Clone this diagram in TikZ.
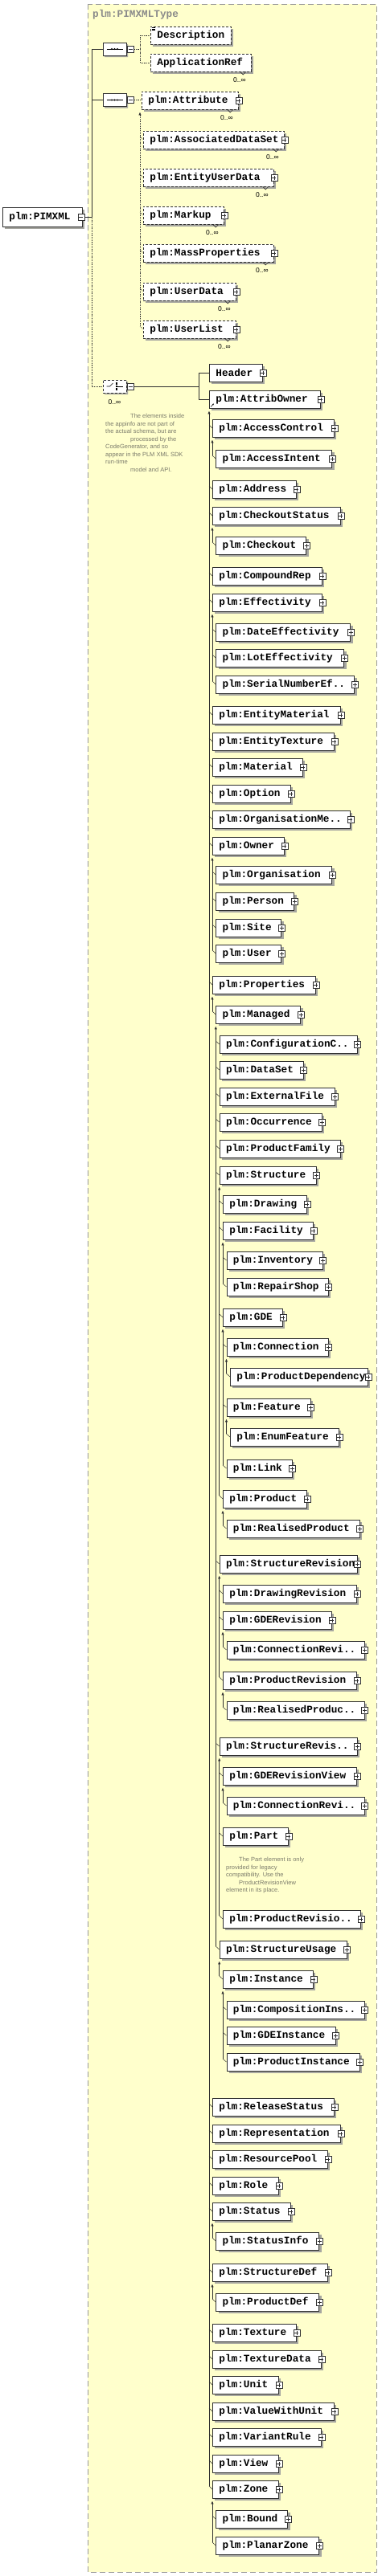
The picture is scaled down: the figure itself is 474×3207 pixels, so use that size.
\documentclass[tikz,border=0pt]{standalone}
\usepackage{fontspec}
\usetikzlibrary{positioning,shapes.misc,shadows,arrows.meta}
\newfontfamily\pimmono{Liberation Mono}[HyphenChar=None]
\newfontfamily\pimsans{Liberation Sans}
\newcommand{\pimboxfont}{\pimmono\bfseries\fontsize{12.7}{14}\selectfont}
\newcommand{\pimnotefont}{\pimsans\fontsize{7.5}{9.5}\selectfont}
\newcommand{\pimoccfont}{\pimsans\fontsize{8.5}{9}\selectfont}
\definecolor{typebg}{HTML}{FFFFCC}
\definecolor{typeframe}{HTML}{9A9A9A}
\definecolor{boxline}{HTML}{303030}
\definecolor{shadowgray}{HTML}{A6A6A0}
\definecolor{titlegray}{HTML}{8A8A8A}
\definecolor{notegray}{HTML}{7A7A6A}
\tikzset{
pimbox/.style = {draw=boxline, fill=white, anchor=west, font=\pimboxfont, inner xsep=8pt, inner ysep=0pt,
  minimum height=22pt, text width=#1, line width=0.8pt,
  drop shadow={shadow xshift=3pt, shadow yshift=-3pt, fill=shadowgray, opacity=1}},
elem/.style = {pimbox=#1, label={[plusbox]east:{}}},
optbox/.style = {pimbox=#1, densely dashed},
optelem/.style = {elem=#1, densely dashed},
plusbox/.style = {draw=boxline, fill=white, anchor=center, minimum size=8pt, inner sep=0pt, line width=0.6pt, solid,
  path picture={\draw[line width=0.6pt] ([xshift=-2.5pt]path picture bounding box.center) -- ([xshift=2.5pt]path picture bounding box.center)
    ([yshift=-2.5pt]path picture bounding box.center) -- ([yshift=2.5pt]path picture bounding box.center);}},
minusbox/.style = {draw=boxline, fill=white, minimum size=8pt, inner sep=0pt, line width=0.6pt, solid,
  path picture={\draw[line width=0.6pt] ([xshift=-2.5pt]path picture bounding box.center) -- ([xshift=2.5pt]path picture bounding box.center);}},
seq/.style = {chamfered rectangle, chamfered rectangle xsep=4pt, draw=boxline, fill=white, minimum width=29pt,
  minimum height=16pt, inner sep=0pt, line width=0.8pt,
  drop shadow={shadow xshift=2pt, shadow yshift=-2pt, fill=shadowgray, opacity=1}},
optseq/.style = {seq, densely dashed},
occ/.style = {font=\pimoccfont, inner sep=0pt},
note/.style = {font=\pimnotefont, text=notegray, align=left, anchor=north west, inner sep=0pt},
bus/.style = {draw=boxline, line width=0.8pt},
optbus/.style = {bus, densely dotted},
subst/.style = {bus, -{Latex[length=4pt,width=3.5pt]}},
substtick/.style = {bus, line width=0.5pt}
}
\newcommand{\substgroup}[3]{%
  \draw [subst] (#1.south west |- #2.west) ++(0,4pt) -- ([yshift=-3pt]#1.south west);
  \foreach \kid in {#3} {\draw [substtick] (#1.south west |- \kid.west) ++(0,4pt) -- (\kid.west);}%
}
\begin{document}
\begin{tikzpicture}[x=1pt, y=-1pt]
    \useasboundingbox (0,0) rectangle (474,3207);
    \draw [fill=typebg, draw=typeframe, line width=0.8pt, dash pattern=on 7pt off 4pt] (109,5) rectangle (468,3202);
    \node [anchor=west, font=\pimboxfont, text=titlegray, inner sep=0pt] (title) at (115,18) {plm:PIMXMLType};

    % root element and compositors
    \node [pimbox=83pt, minimum height=24pt] (root) at (3,270) {plm:PIMXML};
    \node [minusbox] (rootm) at ([xshift=-2pt]root.east) {};
    \node [seq] (seq1) at (142.5,61) {};
    \node [minusbox, right=1pt of seq1] (seq1m) {};
    \node [seq] (seq2) at (142.5,124.5) {};
    \node [minusbox, right=1pt of seq2] (seq2m) {};
    \node [optseq] (choice) at (142.5,481) {};
    \node [minusbox, right=1pt of choice] (choicem) {};
    \node [occ] (choice-occ) at ([yshift=-11pt]choice.south) {0..∞};
    \foreach \s in {seq1,seq2} {
      \draw [line width=0.6pt] ([xshift=-10pt]\s.center) -- ([xshift=10pt]\s.center);
      \foreach \dx in {-3.5,0,3.5} \fill ([xshift=\dx pt]\s.center) circle (1.1pt);
    }
    \draw [line width=0.6pt] ([xshift=-10pt]choice.center) -- ++(4pt,0) -- ++(4pt,4pt);
    \foreach \dy in {-3.5,0,3.5} \fill ([shift={(1pt,\dy pt)}]choice.center) ++(0,-1.2pt) rectangle ++(2.4pt,2.4pt);
    \draw [line width=0.6pt] ([xshift=3.4pt]choice.center) -- ([xshift=10pt]choice.center);

    % first two sequences
    \node [optbox=84pt] (desc) at (187,44) {Description};
    \node [optbox=109pt] (appref) at (187,78) {ApplicationRef};
    \node [optelem=104pt] (attribute) at (176,125) {plm:Attribute};
    \node [optelem=159pt] (assocdataset) at (178,174) {plm:AssociatedDataSet};
    \node [optelem=146pt] (entityuserdata) at (178,221) {plm:EntityUserData};
    \node [optelem=84pt] (markup) at (178,268) {plm:Markup};
    \node [optelem=146pt] (massprops) at (178,315) {plm:MassProperties};
    \node [optelem=99pt] (userdata) at (178,363) {plm:UserData};
    \node [optelem=99pt] (userlist) at (178,410) {plm:UserList};
    \foreach \k in {0,1.5,3} \draw [line width=0.5pt] ([shift={(2pt,-2pt-\k pt)}]desc.north west) -- ++(4pt,0);
    \foreach \m in {appref,attribute,assocdataset,entityuserdata,markup,massprops,userdata,userlist} {
      \draw [boxline, line width=0.6pt] ([xshift=-14pt]\m.south east) -- ++(3.5pt,-3.5pt) -- ++(3.5pt,3.5pt);
      \node [occ] (\m-occ) at ([xshift=-15pt,yshift=-10pt]\m.south east) {0..∞};
    }

    % choice content
    \node [elem=50pt] (header) at (260,464) {Header};
    \node [elem=122pt] (attribowner) at (260,497) {plm:AttribOwner};
    \draw [-{Latex[length=2pt,width=2pt]}, line width=0.5pt] ([shift={(2pt,2pt)}]attribowner.south west) -- ++(4pt,4pt);
    \node [note] (appinfo) at (131,515) {\hspace*{31pt}The elements inside\\the appinfo are not part of\\the actual schema, but are\\
      \hspace*{31pt}processed by the\\CodeGenerator, and so\\appear in the PLM XML SDK\\run-time\\\hspace*{31pt}model and API.};

    \node [elem=135pt] (accesscontrol) at (264,533) {plm:AccessControl};
    \node [elem=128pt] (accessintent) at (268.3,571) {plm:AccessIntent};
    \node [elem=88pt] (address) at (264,609) {plm:Address};
    \node [elem=143pt] (checkoutstatus) at (264,642) {plm:CheckoutStatus};
    \node [elem=96pt] (checkout) at (268.3,679) {plm:Checkout};
    \node [elem=120pt] (compoundrep) at (264,717) {plm:CompoundRep};
    \node [elem=120pt] (effectivity) at (264,750) {plm:Effectivity};
    \node [elem=151pt] (dateeffectivity) at (268.3,787) {plm:DateEffectivity};
    \node [elem=143pt] (loteffectivity) at (268.3,819) {plm:LotEffectivity};
    \node [elem=156pt] (serialnumeff) at (268.3,852) {plm:SerialNumberEf..};
    \node [elem=143pt] (entitymaterial) at (264,890) {plm:EntityMaterial};
    \node [elem=135pt] (entitytexture) at (264,923) {plm:EntityTexture};
    \node [elem=96pt] (material) at (264,955) {plm:Material};
    \node [elem=81pt] (option) at (264,988) {plm:Option};
    \node [elem=155pt] (organisationme) at (264,1020) {plm:OrganisationMe..};
    \node [elem=73pt] (owner) at (264,1053) {plm:Owner};
    \node [elem=128pt] (organisation) at (268.3,1089) {plm:Organisation};
    \node [elem=81pt] (person) at (268.3,1122) {plm:Person};
    \node [elem=65pt] (site) at (268.3,1155) {plm:Site};
    \node [elem=65pt] (user) at (268.3,1187) {plm:User};
    \node [elem=112pt] (properties) at (264,1226) {plm:Properties};
    \node [elem=89pt] (managed) at (268.3,1263) {plm:Managed};
    \node [elem=155pt] (configurationc) at (272.7,1300) {plm:ConfigurationC..};
    \node [elem=88pt] (dataset) at (272.7,1332) {plm:DataSet};
    \node [elem=127pt] (externalfile) at (272.7,1365) {plm:ExternalFile};
    \node [elem=111pt] (occurrence) at (272.7,1397) {plm:Occurrence};
    \node [elem=134pt] (productfamily) at (272.7,1430) {plm:ProductFamily};
    \node [elem=104pt] (structure) at (272.7,1463) {plm:Structure};
    \node [elem=88pt] (drawing) at (277,1499) {plm:Drawing};
    \node [elem=96pt] (facility) at (277,1532) {plm:Facility};
    \node [elem=103pt] (inventory) at (281.5,1569) {plm:Inventory};
    \node [elem=110pt] (repairshop) at (281.5,1602) {plm:RepairShop};
    \node [elem=58pt] (gde) at (277,1640) {plm:GDE};
    \node [elem=110pt] (connection) at (281.5,1677) {plm:Connection};
    \node [elem=155pt] (productdependency) at (286,1714) {plm:ProductDependency};
    \node [elem=88pt] (feature) at (281.5,1752) {plm:Feature};
    \node [elem=119pt] (enumfeature) at (286,1789) {plm:EnumFeature};
    \node [elem=65pt] (link) at (281.5,1828) {plm:Link};
    \node [elem=88pt] (product) at (277,1866) {plm:Product};
    \node [elem=149pt] (realisedproduct) at (281.5,1903) {plm:RealisedProduct};
    \node [elem=155pt] (structurerevision) at (272.7,1947) {plm:StructureRevision};
    \node [elem=150pt] (drawingrevision) at (277,1984) {plm:DrawingRevision};
    \node [elem=119pt] (gderevision) at (277,2017) {plm:GDERevision};
    \node [elem=155pt] (connectionrevi) at (281.5,2054) {plm:ConnectionRevi..};
    \node [elem=150pt] (productrevision) at (277,2092) {plm:ProductRevision};
    \node [elem=155pt] (realisedproduc) at (281.5,2129) {plm:RealisedProduc..};
    \node [elem=155pt] (structurerevis) at (272.7,2174) {plm:StructureRevis..};
    \node [elem=150pt] (gderevisionview) at (277,2211) {plm:GDERevisionView};
    \node [elem=155pt] (connectionrevii) at (281.5,2248) {plm:ConnectionRevi..};
    \node [elem=65pt] (part) at (277,2286) {plm:Part};
    \node [note] (partnote) at (281,2312) {\hspace*{16pt}The Part element is only\\provided for legacy\\compatibility. Use the\\
      \hspace*{16pt}ProductRevisionView\\element in its place.};
    \node [elem=155pt] (productrevisio) at (277,2389) {plm:ProductRevisio..};
    \node [elem=142pt] (structureusage) at (272.7,2427) {plm:StructureUsage};
    \node [elem=96pt] (instance) at (277,2464) {plm:Instance};
    \node [elem=155pt] (compositionins) at (281.5,2502) {plm:CompositionIns..};
    \node [elem=119pt] (gdeinstance) at (281.5,2534) {plm:GDEInstance};
    \node [elem=149pt] (productinstance) at (281.5,2567) {plm:ProductInstance};
    \node [elem=135pt] (releasestatus) at (264,2623) {plm:ReleaseStatus};
    \node [elem=143pt] (representation) at (264,2656) {plm:Representation};
    \node [elem=127pt] (resourcepool) at (264,2688) {plm:ResourcePool};
    \node [elem=66pt] (role) at (264,2721) {plm:Role};
    \node [elem=81pt] (status) at (264,2753) {plm:Status};
    \node [elem=112pt] (statusinfo) at (268.3,2790) {plm:StatusInfo};
    \node [elem=127pt] (structuredef) at (264,2829) {plm:StructureDef};
    \node [elem=112pt] (productdef) at (268.3,2866) {plm:ProductDef};
    \node [elem=88pt] (texture) at (264,2904) {plm:Texture};
    \node [elem=119pt] (texturedata) at (264,2937) {plm:TextureData};
    \node [elem=66pt] (unit) at (264,2969) {plm:Unit};
    \node [elem=135pt] (valuewithunit) at (264,3002) {plm:ValueWithUnit};
    \node [elem=119pt] (variantrule) at (264,3034) {plm:VariantRule};
    \node [elem=66pt] (view) at (264,3067) {plm:View};
    \node [elem=66pt] (zone) at (264,3099) {plm:Zone};
    \node [elem=73pt] (bound) at (268.3,3136) {plm:Bound};
    \node [elem=112pt] (planarzone) at (268.3,3169) {plm:PlanarZone};

    % connectors
    \coordinate (rootbus) at (114,270);
    \draw [bus] (rootm) -- (rootbus);
    \draw [bus] (rootbus) |- (seq1);
    \draw [bus] (seq2 -| rootbus) -- (seq2);
    \draw [optbus] (rootbus) |- (choice);
    \coordinate (seq1bus) at (174,61);
    \draw [optbus] (seq1m) -- (seq1bus) |- (desc);
    \draw [optbus] (seq1bus) |- (appref);
    \draw [optbus] (seq2m) -- (seq2m -| attribute.west);
    \coordinate (attrbus) at ([xshift=-2pt,yshift=-3pt]attribute.south west);
    \draw [optbus, -{Latex[length=4pt,width=3.5pt]}] (attrbus |- userlist.west) ++(0,4pt) -- (attrbus);
    \foreach \kid in {assocdataset,entityuserdata,markup,massprops,userdata,userlist}
      \draw [optbus, line width=0.5pt] (attrbus |- \kid.west) ++(0,4pt) -- (\kid.west);
    \coordinate (choicebus) at (247,481);
    \draw [bus] (choicem) -- (choicebus);
    \draw [bus] (choicebus) |- (header);
    \draw [bus] (choicebus) |- (attribowner);

    % substitution groups
    \substgroup{attribowner}{zone}{accesscontrol,address,checkoutstatus,compoundrep,effectivity,entitymaterial,entitytexture,material,option,organisationme,owner,properties,releasestatus,representation,resourcepool,role,status,structuredef,texture,texturedata,unit,valuewithunit,variantrule,view,zone}
    \substgroup{accesscontrol}{accessintent}{accessintent}
    \substgroup{checkoutstatus}{checkout}{checkout}
    \substgroup{effectivity}{serialnumeff}{dateeffectivity,loteffectivity,serialnumeff}
    \substgroup{owner}{user}{organisation,person,site,user}
    \substgroup{properties}{managed}{managed}
    \substgroup{managed}{structureusage}{configurationc,dataset,externalfile,occurrence,productfamily,structure,structurerevision,structurerevis,structureusage}
    \substgroup{structure}{product}{drawing,facility,gde,product}
    \substgroup{facility}{repairshop}{inventory,repairshop}
    \substgroup{gde}{link}{connection,feature,link}
    \substgroup{connection}{productdependency}{productdependency}
    \substgroup{feature}{enumfeature}{enumfeature}
    \substgroup{product}{realisedproduct}{realisedproduct}
    \substgroup{structurerevision}{productrevision}{drawingrevision,gderevision,productrevision}
    \substgroup{gderevision}{connectionrevi}{connectionrevi}
    \substgroup{productrevision}{realisedproduc}{realisedproduc}
    \substgroup{structurerevis}{productrevisio}{gderevisionview,part,productrevisio}
    \substgroup{gderevisionview}{connectionrevii}{connectionrevii}
    \substgroup{structureusage}{instance}{instance}
    \substgroup{instance}{productinstance}{compositionins,gdeinstance,productinstance}
    \substgroup{status}{statusinfo}{statusinfo}
    \substgroup{structuredef}{productdef}{productdef}
    \substgroup{zone}{planarzone}{bound,planarzone}
\end{tikzpicture}
\end{document}
